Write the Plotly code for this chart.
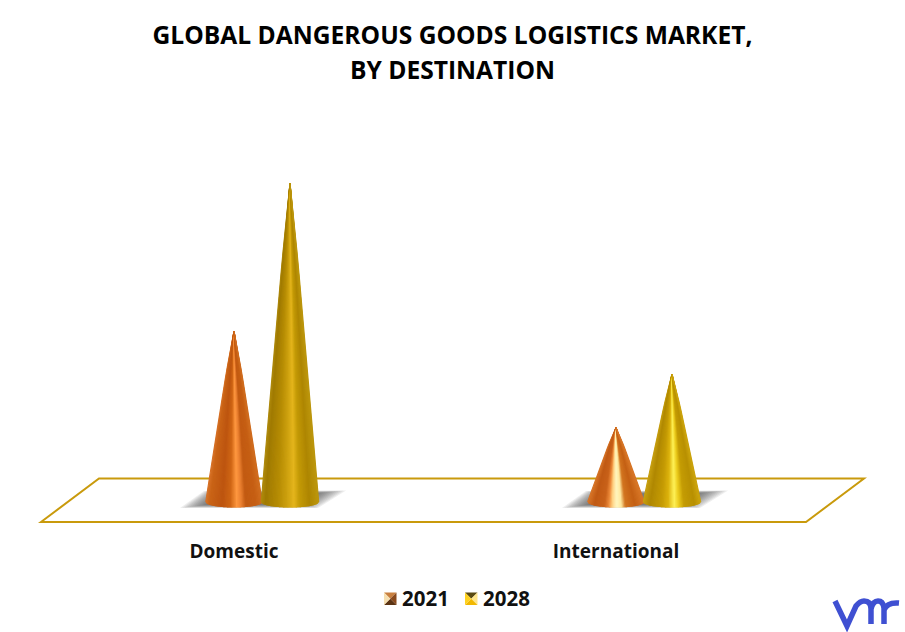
import plotly.graph_objects as go

categories = ["Domestic", "International"]
years = ["2021", "2028"]
values_2021 = [5.43, 2.45]
values_2028 = [10.0, 4.10]

W, H = 905, 632
PX_X0, PX_PER_CAT = 234, 382      # x scale
PX_Y0, PX_PER_UNIT = 507, 32.4    # y scale
DOM_TOP, DOM_BOTTOM = 110, 538

def ux(dpx): return dpx / PX_PER_CAT
def uy(dpx): return dpx / PX_PER_UNIT
def pxp(x): return x / W
def pyp(y): return 1 - y / H

def lerp_hex(c1, c2, t):
    a = [int(c1[i:i+2], 16) for i in (1, 3, 5)]
    b = [int(c2[i:i+2], 16) for i in (1, 3, 5)]
    return "#%02x%02x%02x" % tuple(round(p + (q - p) * t) for p, q in zip(a, b))

def ramp(stops, u):
    for (u0, c0), (u1, c1) in zip(stops, stops[1:]):
        if u <= u1:
            return lerp_hex(c0, c1, (u - u0) / (u1 - u0))
    return stops[-1][1]

STYLE = {
    ("2021", 0): [(0, "#d87228"), (.08, "#c96316"), (.3, "#bd5510"), (.45, "#d06615"), (.56, "#ff9840"),
                  (.64, "#ea8030"), (.72, "#c25a12"), (.9, "#c65f14"), (1, "#d06c1e")],
    ("2028", 0): [(0, "#b08c0c"), (.08, "#a07a02"), (.3, "#b68c04"), (.45, "#cca00e"), (.58, "#e4b51c"),
                  (.68, "#c49a06"), (.85, "#ae8602"), (1, "#bc960c")],
    ("2021", 1): [(0, "#d87628"), (.12, "#c05a14"), (.3, "#c9621a"), (.38, "#ec8a3a"), (.44, "#ffcf80"),
                  (.52, "#fff6c0"), (.6, "#ffe9a0"), (.68, "#d2741f"), (.85, "#c46014"), (1, "#d87626")],
    ("2028", 1): [(0, "#c8a010"), (.12, "#b08802"), (.32, "#c49a04"), (.44, "#dcb20c"), (.55, "#fff258"),
                  (.63, "#eccc1c"), (.72, "#c49c04"), (.9, "#b89002"), (1, "#cca40c")],
}
OFFSET = {"2021": 0, "2028": 56}
HALF = {"2021": 28.2, "2028": 28.7}
N_STRIPS = 44

fig = go.Figure()

# floor shadows
for i, _ in enumerate(categories):
    for k in range(12):
        g = k * 1.0
        xs = [-54 + g * 2.4, -30 + g * 1.2, 112 - g * 2.6, 84 - g * 1.6, -54 + g * 2.4]
        ys = [508 - g * .3, 491 + g * .25, 490.5 + g * .25, 508 - g * .3, 508 - g * .3]
        fig.add_trace(go.Scatter(
            x=[i + ux(v) for v in xs], y=[uy(PX_Y0 - v) for v in ys],
            mode="lines", fill="toself", fillcolor="rgba(70,70,70,0.09)",
            line=dict(width=0), hoverinfo="skip", showlegend=False))

def cone(cat_i, year, value):
    cx = cat_i + ux(OFFSET[year])
    hw = ux(HALF[year])
    depth = uy(5.5)
    stops = STYLE[(year, cat_i)]
    for s in range(N_STRIPS):
        u0, u1 = s / N_STRIPS, (s + 1) / N_STRIPS
        fs = [j / 14 for j in range(15)]
        def edge(u):
            b = depth - depth * (1 - (2 * u - 1) ** 2) ** .5
            return ([cx + hw * (2 * u - 1) * f ** .92 for f in fs],
                    [value + (b - value) * f for f in fs])
        x0, y0 = edge(u0)
        x1, y1 = edge(u1)
        col = ramp(stops, (u0 + u1) / 2)
        fig.add_trace(go.Scatter(
            x=x0 + x1[::-1] + [x0[0]], y=y0 + y1[::-1] + [y0[0]],
            mode="lines", fill="toself", fillcolor=col,
            line=dict(width=1.1, color=col), hoverinfo="skip", showlegend=False))

for year, vals in (("2021", values_2021), ("2028", values_2028)):
    for i, v in enumerate(vals):
        cone(i, year, v)

# legend entries, one legend per year so their spacing can follow the reference
for year, lg in zip(years, ("legend", "legend2")):
    fig.add_trace(go.Scatter(
        x=[None], y=[None], mode="markers", name=year, legend=lg,
        marker=dict(symbol="square", size=13, color="rgba(0,0,0,0)")))

def poly(points):
    return "M" + " L".join(f"{pxp(x):.5f},{pyp(y):.5f}" for x, y in points) + " Z"

shapes = [dict(type="path", xref="paper", yref="paper", layer="below",
               path=poly([(41, 522), (99, 478.5), (864, 478.5), (806, 522)]),
               line=dict(color="#c99a0c", width=2), fillcolor="rgba(0,0,0,0)")]

def icon(x0, y0, s, top, left, right, bottom):
    c = (x0 + s / 2, y0 + s / 2)
    for col, a, b in ((top, (x0, y0), (x0 + s, y0)), (right, (x0 + s, y0), (x0 + s, y0 + s)),
                      (bottom, (x0 + s, y0 + s), (x0, y0 + s)), (left, (x0, y0 + s), (x0, y0))):
        shapes.append(dict(type="path", xref="paper", yref="paper", layer="above",
                           path=poly([a, b, c]), line=dict(width=0), fillcolor=col))

icon(384, 592.5, 12.5, "#c9803f", "#f6dfb0", "#8a4a1c", "#5c3312")
icon(465, 592.5, 12.5, "#5a4a12", "#ffd21f", "#ffe58a", "#f2b800")

# logo
def P(x, y): return f"{pxp(x):.5f},{pyp(y):.5f}"
logo = (f"M{P(835,601)} L{P(847,626)} L{P(856,606)} Q{P(860,601)} {P(864,601)} "
        f"Q{P(871,601)} {P(871,609)} L{P(871,624)} "
        f"M{P(871,609)} Q{P(873,601)} {P(878,601)} Q{P(883,601)} {P(884,608)} L{P(884,624)} "
        f"M{P(884,610)} Q{P(887,602)} {P(899,603)}")
shapes.append(dict(type="path", xref="paper", yref="paper", path=logo,
                   line=dict(color="#3f50d2", width=5.5), fillcolor="rgba(0,0,0,0)"))

y_low = -(DOM_BOTTOM - PX_Y0) / PX_PER_UNIT
y_high = (PX_Y0 - DOM_TOP) / PX_PER_UNIT

FONT = "Open Sans"
legend_style = dict(orientation="h", xanchor="left", y=1 - 598 / H, yanchor="middle",
                    bgcolor="rgba(0,0,0,0)",
                    font=dict(size=20.5, family=FONT, color="#111111", weight="bold"),
                    itemsizing="constant")
fig.update_layout(
    width=W, height=H, autosize=False,
    margin=dict(l=0, r=0, t=0, b=0),
    paper_bgcolor="white", plot_bgcolor="white",
    font=dict(family=FONT, color="#111111"),
    title=dict(text="<b><span style='font-size:24.6px'>GLOBAL DANGEROUS GOODS LOGISTICS MARKET,</span><br>"
                    "<span style='font-size:24.6px'>BY DESTINATION</span></b>",
               x=0.5, xanchor="center", y=1 - 44 / H, yanchor="top",
               font=dict(size=27, family=FONT, color="black")),
    xaxis=dict(range=[-PX_X0 / PX_PER_CAT, (W - PX_X0) / PX_PER_CAT], domain=[0, 1],
               tickmode="array", tickvals=[0, 1], ticktext=[f"<b>{c}</b>" for c in categories],
               tickfont=dict(size=19, family=FONT, color="#111111"),
               showgrid=False, zeroline=False, showline=False, ticks=""),
    yaxis=dict(range=[y_low, y_high], domain=[1 - DOM_BOTTOM / H, 1 - DOM_TOP / H],
               visible=False),
    legend=dict(x=362 / W, **legend_style),
    legend2=dict(x=443 / W, **legend_style),
    shapes=shapes,
)
fig.write_html("out.html", config=dict(displayModeBar=False),
               post_script="document.body.style.margin='0';")
